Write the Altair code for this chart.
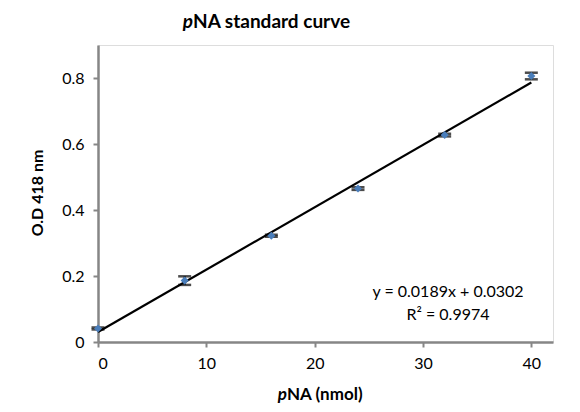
import altair as alt
import pandas as pd

# pNA standard curve: medias +/- error
PNA_NMOL = [0, 8, 16, 24, 32, 40]
OD_418 = [0.041, 0.186, 0.322, 0.465, 0.627, 0.806]
OD_ERR = [0.003, 0.013, 0.003, 0.004, 0.004, 0.010]

# Recta de ajuste (extremos de la línea de tendencia)
TREND_X = [0, 40]
TREND_Y = [0.0302, 0.7862]

X_TICKS = [0, 10, 20, 30, 40]
Y_TICKS = [0, 0.2, 0.4, 0.6, 0.8]

FONT = "Lato"
AXIS_GRAY = "#868686"
POINT_BLUE = "#4a7ebb"

pts = pd.DataFrame({"x": PNA_NMOL, "y": OD_418, "err": OD_ERR})
pts["lo"] = pts["y"] - pts["err"]
pts["hi"] = pts["y"] + pts["err"]
trend = pd.DataFrame({"x": TREND_X, "y": TREND_Y})

x_scale = alt.Scale(domain=[0, 42], nice=False, zero=False)
y_scale = alt.Scale(domain=[0, 0.9], nice=False)

axis_common = dict(
    grid=False,
    domainColor=AXIS_GRAY,
    domainWidth=2.5,
    tickColor=AXIS_GRAY,
    tickWidth=2,
    tickSize=5,
    labelFont=FONT,
    labelFontSize=16,
    labelColor="#000000",
    title=None,
)
x_enc = alt.X("x:Q", scale=x_scale, axis=alt.Axis(values=X_TICKS, labelPadding=8, **axis_common))
y_enc = alt.Y("y:Q", scale=y_scale, axis=alt.Axis(values=Y_TICKS, format="~g", labelPadding=9, **axis_common))

line = alt.Chart(trend).mark_line(color="black", strokeWidth=2.2).encode(x=x_enc, y=y_enc)

bars = alt.Chart(pts).mark_rule(color="black", strokeWidth=2).encode(
    x="x:Q", y="lo:Q", y2="hi:Q"
)
caps_lo = alt.Chart(pts).mark_tick(color="black", thickness=2.5, size=13, orient="horizontal").encode(
    x="x:Q", y="lo:Q"
)
caps_hi = alt.Chart(pts).mark_tick(color="black", thickness=2.5, size=13, orient="horizontal").encode(
    x="x:Q", y="hi:Q"
)
points = alt.Chart(pts).mark_point(shape="diamond", filled=True, opacity=1, size=65, color=POINT_BLUE).encode(
    x="x:Q", y="y:Q"
)


def label(text, x, y, align="center", bold=False, italic=False, size=16, angle=0):
    """Texto suelto en coordenadas de píxel del área de dibujo."""
    kw = dict(
        font=FONT,
        fontSize=size,
        align=align,
        baseline="middle",
        color="black",
        fontWeight="bold" if bold else "normal",
        fontStyle="italic" if italic else "normal",
    )
    if angle:
        kw["angle"] = angle
    return alt.Chart(pd.DataFrame({"t": [text]})).mark_text(**kw).encode(
        x=alt.value(x), y=alt.value(y), text="t:N"
    )


texts = [
    label("p", 95, -23, align="right", bold=True, italic=True, size=19),
    label("NA standard curve", 95, -23, align="left", bold=True, size=19),
    label("p", 189, 350, align="right", bold=True, italic=True, size=17),
    label("NA (nmol)", 189, 350, align="left", bold=True, size=17),
    label("O.D 418 nm", -60, 148, bold=True, size=16, angle=270),
    label("y = 0.0189x + 0.0302", 350, 247, size=16),
    label("R² = 0.9974", 350, 270, size=16),
]

chart = alt.layer(line, bars, caps_lo, caps_hi, points, *texts).properties(
    width=455,
    height=297,
    autosize=alt.AutoSizeParams(type="none"),
    padding={"left": 90, "top": 37, "right": 12, "bottom": 64},
).configure_view(stroke=None).configure(background="white")

chart.save("out.html", embed_options={"renderer": "svg", "actions": False})
